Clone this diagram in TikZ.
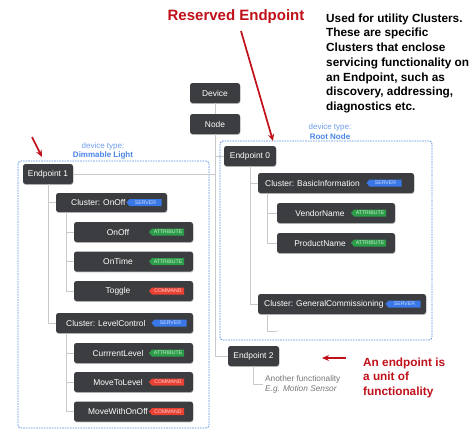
\documentclass[tikz,border=0pt]{standalone}
\usepackage{fontspec}
\setmainfont{Liberation Sans}
\usetikzlibrary{shapes.symbols,shadows,arrows.meta,calc}
\definecolor{ndgray}{HTML}{3B3D40}
\definecolor{linegray}{HTML}{C9C9C9}
\definecolor{dblue}{HTML}{5C8FE6}
\definecolor{lblblue}{HTML}{6D9EEB}
\definecolor{lblblueb}{HTML}{4A86E8}
\definecolor{srvblue}{HTML}{3B78E7}
\definecolor{srvtext}{HTML}{C8DCFF}
\definecolor{attrgreen}{HTML}{2E9D4A}
\definecolor{attrtext}{HTML}{C8F0CF}
\definecolor{cmdred}{HTML}{E84235}
\definecolor{cmdtext}{HTML}{FFD0CC}
\definecolor{darkred}{HTML}{C0101A}
\definecolor{subgray}{HTML}{777777}
\tikzset{
  nd/.style={fill=ndgray, rounded corners=2.5pt, minimum height=20pt, inner sep=0pt,
    text=white, font=\fontsize{8.4}{10}\selectfont,
    drop shadow={shadow xshift=0.4pt, shadow yshift=-0.9pt, fill=black, opacity=0.25}},
  ndtxt/.style={inner sep=0pt, text=white, font=\fontsize{8.4}{10}\selectfont},
  badge/.style={signal, signal to=west, signal pointer angle=100, minimum width=35pt,
    minimum height=7pt, inner sep=0pt, inner xsep=0.5pt, font=\fontsize{5.2}{5.5}\selectfont},
  srv/.style={badge, fill=srvblue, text=srvtext},
  attr/.style={badge, fill=attrgreen, text=attrtext},
  cmd/.style={badge, fill=cmdred, text=cmdtext},
  conn/.style={draw=linegray, line width=0.9pt},
  dbox/.style={draw=dblue, dash pattern=on 1.6pt off 1pt, rounded corners=3pt, line width=0.8pt},
  dtlbl/.style={text=lblblue, font=\fontsize{8}{9}\selectfont, inner sep=0pt},
  dtname/.style={text=lblblueb, font=\bfseries\fontsize{8}{9}\selectfont, inner sep=0pt},
  redarrow/.style={draw=darkred, line width=1.7pt, -{Stealth[length=7pt,width=6pt]}},
}
\begin{document}
\begin{tikzpicture}[x=1pt,y=-1pt]
\useasboundingbox[fill=white] (0,0) rectangle (474,434);

% dashed device-type boxes
\draw[dbox] (18,161) rectangle (209,428);
\draw[dbox] (220,141) rectangle (432,340);
\node[dtlbl] (dt1) at (103,146) {device type:};
\node[dtname] (dt1b) at (103,155.5) {Dimmable Light};
\node[dtlbl] (dt0) at (330,127) {device type:};
\node[dtname] (dt0b) at (330,136.5) {Root Node};

% top level
\node[nd, minimum width=50pt] (device) at (215,93) {Device};
\node[nd, minimum width=50pt] (nodeN) at (215,124) {Node};
\node[nd, minimum width=52pt] (ep0) at (250,156) {Endpoint 0};
\node[nd, minimum width=50pt] (ep1) at (48,174) {Endpoint 1};
\node[nd, minimum width=51pt] (ep2) at (253.5,356) {Endpoint 2};

% Endpoint 1 clusters
\node[nd, minimum width=111pt, minimum height=19pt] (onoffc) at (111.5,202.5) {};
\node[ndtxt, anchor=west] (onoffct) at (71,202.5) {Cluster: OnOff};
\node[srv] (onoffcb) at (145.5,202.5) {SERVER};

\node[nd, minimum width=119pt] (a1) at (133.5,232) {};
\node[ndtxt] (a1t) at (118,232) {OnOff};
\node[attr] (a1b) at (168,232) {ATTRIBUTE};
\node[nd, minimum width=119pt] (a2) at (133.5,261.5) {};
\node[ndtxt] (a2t) at (118,261.5) {OnTime};
\node[attr] (a2b) at (168,261.5) {ATTRIBUTE};
\node[nd, minimum width=119pt] (a3) at (133.5,291) {};
\node[ndtxt] (a3t) at (118,291) {Toggle};
\node[cmd] (a3b) at (168,291) {COMMAND};

\node[nd, minimum width=137pt] (lc) at (124.5,323) {};
\node[ndtxt, anchor=west] (lct) at (66,323) {Cluster: LevelControl};
\node[srv] (lcb) at (170.5,323) {SERVER};

\node[nd, minimum width=119pt] (b1) at (133.5,353) {};
\node[ndtxt] (b1t) at (118,353) {CurrrentLevel};
\node[attr] (b1b) at (168,353) {ATTRIBUTE};
\node[nd, minimum width=119pt] (b2) at (133.5,382) {};
\node[ndtxt] (b2t) at (118,382) {MoveToLevel};
\node[cmd] (b2b) at (168,382) {COMMAND};
\node[nd, minimum width=119pt] (b3) at (133.5,411.5) {};
\node[ndtxt] (b3t) at (118,411.5) {MoveWithOnOff};
\node[cmd] (b3b) at (168,411.5) {COMMAND};

% Endpoint 0 clusters
\node[nd, minimum width=156pt] (bi) at (336,183) {};
\node[ndtxt, anchor=west] (bit) at (265,183) {Cluster: BasicInformation};
\node[srv] (bib) at (385.5,183) {SERVER};
\node[nd, minimum width=118pt] (vn) at (336,213) {};
\node[ndtxt] (vnt) at (320,213) {VendorName};
\node[attr] (vnb) at (370,213) {ATTRIBUTE};
\node[nd, minimum width=118pt] (pn) at (336,243) {};
\node[ndtxt] (pnt) at (320,243) {ProductName};
\node[attr] (pnb) at (370,243) {ATTRIBUTE};
\node[nd, minimum width=168pt] (gc) at (342,304) {};
\node[ndtxt, anchor=west] (gct) at (264,304) {Cluster: GeneralCommissioning};
\node[srv] (gcb) at (404.5,304) {SERVER};
\node[inner sep=0pt, anchor=west, text=linegray, font=\fontsize{5}{5}\selectfont] (gcmore) at (277,331) {...};

% Endpoint 2 description
\node[anchor=west, align=left, inner sep=2pt, text=subgray, font=\fontsize{8.3}{10}\selectfont] (ep2txt) at (263,384)
  {Another functionality\\\textit{E.g. Motion Sensor}};

% connectors
\draw[conn] (device) -- (nodeN);
\draw[conn] (nodeN.south) |- (ep2.west);
\draw[conn] (nodeN.south) |- (ep0.west);
\draw[conn] (ep1.east) -- (ep1.east -| nodeN.south);
\draw[conn] (ep1.south) |- (onoffc.west);
\draw[conn] (ep1.south) |- (lc.west);
\draw[conn] ([xshift=11pt]onoffc.south west) |- (a1.west);
\draw[conn] ([xshift=11pt]onoffc.south west) |- (a2.west);
\draw[conn] ([xshift=11pt]onoffc.south west) |- (a3.west);
\draw[conn] ([xshift=11pt]lc.south west) |- (b1.west);
\draw[conn] ([xshift=11pt]lc.south west) |- (b2.west);
\draw[conn] ([xshift=11pt]lc.south west) |- (b3.west);
\draw[conn] (ep0.south) |- (bi.west);
\draw[conn] (ep0.south) |- (gc.west);
\draw[conn] ([xshift=10pt]bi.south west) |- (vn.west);
\draw[conn] ([xshift=10pt]bi.south west) |- (pn.west);
\draw[conn] ([xshift=10pt]gc.south west) |- (gcmore.west);
\draw[conn] (ep2.south) |- (ep2txt.west);

% annotations
\node[anchor=base, text=darkred, font=\bfseries\fontsize{15}{18}\selectfont, inner sep=0pt] (resv) at (236,20.4) {Reserved Endpoint};
\node[anchor=north west, align=left, inner sep=0pt, font=\bfseries\fontsize{11.8}{14.7}\selectfont] (note) at (326,13.5)
  {Used for utility Clusters.\\These are specific\\Clusters that enclose\\servicing functionality on\\an Endpoint, such as\\discovery, addressing,\\diagnostics etc.};
\node[anchor=north west, align=left, inner sep=0pt, text=darkred, font=\bfseries\fontsize{11.8}{14.5}\selectfont] (unit) at (363,357.5)
  {An endpoint is\\a unit of\\functionality};

\coordinate (r1s) at (241,31);
\coordinate (r1e) at (273,141);
\coordinate (r2s) at (32,137);
\coordinate (r2e) at (42,157);
\coordinate (r3s) at (346,358);
\coordinate (r3e) at (322,358);
\draw[redarrow] (r1s) -- (r1e);
\draw[redarrow] (r2s) -- (r2e);
\draw[redarrow] (r3s) -- (r3e);
\end{tikzpicture}
\end{document}
